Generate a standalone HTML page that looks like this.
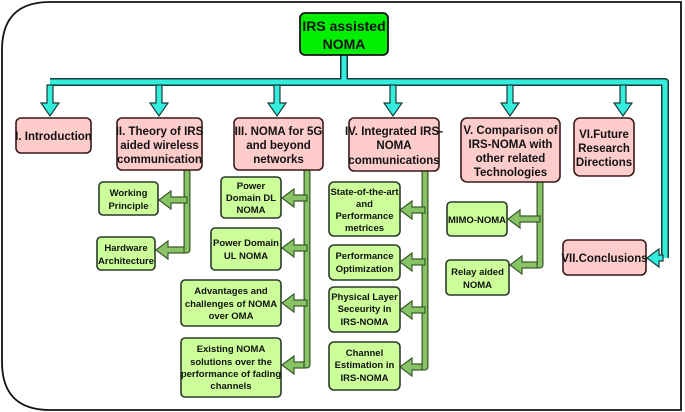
<!DOCTYPE html>
<html><head><meta charset="utf-8"><style>
html,body{margin:0;padding:0;background:#fff;width:685px;height:412px;overflow:hidden}
svg{display:block}
text{font-family:"Liberation Sans",sans-serif;font-weight:bold;fill:#111;text-anchor:middle}
.p{fill:#ffcccc;stroke:#3a1a1a;stroke-width:1.6}
.g{fill:#ccff99;stroke:#2a3a2a;stroke-width:1.6}
.ga{fill:#88c466;stroke:#3a5a2a;stroke-width:1.2}
.ca{fill:#33eedd;stroke:#1a3a3a;stroke-width:1.2}
</style></head><body>
<svg width="685" height="412" viewBox="0 0 685 412">
<path d="M50,2 L681,2 L681,410 L50,410 Q2,410 2,362 L2,50 Q2,2 50,2 Z" fill="#fff" stroke="#111" stroke-width="1.8"/>
<!-- cyan bus -->
<path d="M344,55 V82 M50,82 H665 V258" fill="none" stroke="#1a3a3a" stroke-width="8" stroke-linejoin="round"/>
<path d="M344,55 V82 M50,82 H665 V258" fill="none" stroke="#33eedd" stroke-width="5" stroke-linejoin="round"/>
<g class="ca">
<polygon points="47,85 53,85 53,103 59,103 50,116 41,103 47,103"/>
<polygon points="156,85 162,85 162,103 168,103 159,116 150,103 156,103"/>
<polygon points="274,85 280,85 280,103 286,103 277,116 268,103 274,103"/>
<polygon points="390,85 396,85 396,103 402,103 393,116 384,103 390,103"/>
<polygon points="507,85 513,85 513,103 519,103 510,116 501,103 507,103"/>
<polygon points="620,85 626,85 626,103 632,103 623,116 614,103 620,103"/>
<polygon points="663,255 663,261 659,261 659,267 647,258 659,249 659,255"/>
</g>
<!-- root -->
<rect x="300" y="13" width="88" height="42" rx="5" fill="#00ee00" stroke="#111" stroke-width="1.8"/>
<text x="344" y="31" font-size="14">IRS assisted</text>
<text x="344" y="49" font-size="14">NOMA</text>
<!-- green columns -->
<g fill="none" stroke="#3a5a2a" stroke-width="7" stroke-linejoin="round">
<path d="M187,170 V250 H170"/><path d="M307,170 V365 H290"/><path d="M425,170 V367 H410"/><path d="M540,182 V265 H520"/>
</g>
<g fill="none" stroke="#88c466" stroke-width="4.5" stroke-linejoin="round">
<path d="M187,170 V250 H170"/><path d="M307,170 V365 H290"/><path d="M425,170 V367 H410"/><path d="M540,182 V265 H520"/>
</g>
<g class="ga">
<polygon points="159,200 171,191 171,197 187,197 187,203 171,203 171,209"/>
<polygon points="156,250 168,241 168,247 184,247 184,253 168,253 168,259"/>
<polygon points="282,198 294,189 294,195 307,195 307,201 294,201 294,207"/>
<polygon points="282,248 294,239 294,245 307,245 307,251 294,251 294,257"/>
<polygon points="282,303 294,294 294,300 307,300 307,306 294,306 294,312"/>
<polygon points="282,365 294,356 294,362 304,362 304,368 294,368 294,374"/>
<polygon points="400,210 412,201 412,207 425,207 425,213 412,213 412,219"/>
<polygon points="400,262 412,253 412,259 425,259 425,265 412,265 412,271"/>
<polygon points="400,310 412,301 412,307 425,307 425,313 412,313 412,319"/>
<polygon points="400,367 412,358 412,364 422,364 422,370 412,370 412,376"/>
<polygon points="508,219 520,210 520,216 540,216 540,222 520,222 520,228"/>
<polygon points="510,265 522,256 522,262 537,262 537,268 522,268 522,274"/>
</g>
<!-- pink -->
<g font-size="11.5">
<rect class="p" x="16" y="118" width="75" height="35" rx="5"/><text x="53.5" y="140">I. Introduction</text>
<rect class="p" x="117" y="118" width="85" height="52" rx="5"/><text x="159.5" y="135">II. Theory of IRS</text><text x="159.5" y="149">aided wireless</text><text x="159.5" y="163">communication</text>
<rect class="p" x="234" y="118" width="89" height="52" rx="5"/><text x="278.5" y="135">III. NOMA for 5G</text><text x="278.5" y="149">and beyond</text><text x="278.5" y="163">networks</text>
<rect class="p" x="349" y="118" width="90" height="53" rx="5"/><text x="394" y="135">IV. Integrated IRS-</text><text x="394" y="149">NOMA</text><text x="394" y="164">communications</text>
<rect class="p" x="461" y="118" width="99" height="64" rx="6"/><text x="510.5" y="134">V. Comparison of</text><text x="510.5" y="148">IRS-NOMA with</text><text x="510.5" y="162">other related</text><text x="510.5" y="176">Technologies</text>
<rect class="p" x="574" y="118" width="60" height="58" rx="6"/><text x="604" y="138">VI.Future</text><text x="604" y="152">Research</text><text x="604" y="166">Directions</text>
<rect class="p" x="563" y="240" width="83" height="35" rx="5"/><text x="604.5" y="262">VII.Conclusions</text>
</g>
<!-- green boxes -->
<g font-size="9.5">
<rect class="g" x="99" y="182" width="59" height="33" rx="4"/><text x="128.5" y="196">Working</text><text x="128.5" y="209">Principle</text>
<rect class="g" x="97" y="237" width="58" height="33" rx="4"/><text x="126" y="251">Hardware</text><text x="126" y="264">Architecture</text>
<rect class="g" x="221" y="177" width="60" height="41" rx="4"/><text x="251" y="189">Power</text><text x="251" y="201">Domain DL</text><text x="251" y="213">NOMA</text>
<rect class="g" x="211" y="228" width="70" height="42" rx="4"/><text x="246" y="246">Power Domain</text><text x="246" y="259">UL NOMA</text>
<rect class="g" x="181" y="280" width="100" height="46" rx="4"/><text x="231" y="294">Advantages and</text><text x="231" y="307">challenges of NOMA</text><text x="231" y="319">over OMA</text>
<rect class="g" x="181" y="338" width="100" height="59" rx="4"/><text x="231" y="352">Existing NOMA</text><text x="231" y="365">solutions over the</text><text x="231" y="377">performance of fading</text><text x="231" y="389">channels</text>
<rect class="g" x="329" y="182" width="71" height="54" rx="5"/><text x="364.5" y="195">State-of-the-art</text><text x="364.5" y="207">and</text><text x="364.5" y="219">Performance</text><text x="364.5" y="231">metrices</text>
<rect class="g" x="329" y="245" width="71" height="35" rx="5"/><text x="364.5" y="259">Performance</text><text x="364.5" y="272">Optimization</text>
<rect class="g" x="329" y="287" width="71" height="45" rx="5"/><text x="364.5" y="300">Physical Layer</text><text x="364.5" y="312">Seceurity in</text><text x="364.5" y="325">IRS-NOMA</text>
<rect class="g" x="329" y="342" width="71" height="48" rx="5"/><text x="364.5" y="356">Channel</text><text x="364.5" y="368">Estimation in</text><text x="364.5" y="381">IRS-NOMA</text>
<rect class="g" x="447" y="202" width="60" height="34" rx="4"/><text x="477" y="223">MIMO-NOMA</text>
<rect class="g" x="446" y="260" width="63" height="35" rx="4"/><text x="477.5" y="275">Relay aided</text><text x="477.5" y="288">NOMA</text>
</g>
</svg>
</body></html>
